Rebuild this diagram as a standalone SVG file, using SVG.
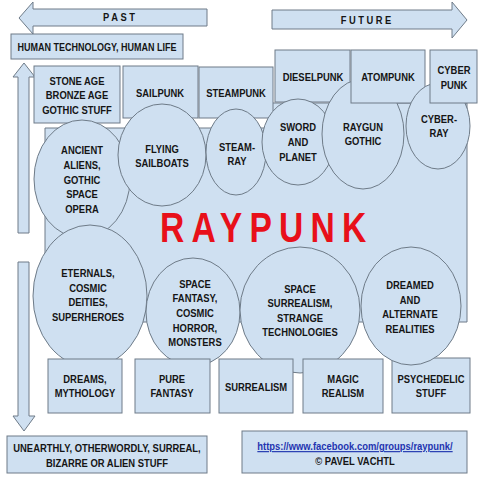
<svg xmlns="http://www.w3.org/2000/svg" width="480" height="480" viewBox="0 0 480 480">
<style>
.s{fill:#cfe0f1;stroke:#6e7b88;stroke-width:1}
.t{font-family:"Liberation Sans",Arial,sans-serif;font-weight:bold;font-size:11.5px;text-anchor:middle;fill:#151515}
.h{font-family:"Liberation Sans",Arial,sans-serif;font-weight:bold;font-size:11px;text-anchor:middle;fill:#151515;letter-spacing:3px}
.big{font-family:"Liberation Sans",Arial,sans-serif;font-weight:bold;font-size:42px;fill:#e8101a;letter-spacing:9px}
.lk{fill:#1f35b0;text-decoration:underline}
</style>
<rect width="480" height="480" fill="#ffffff"/>
<g id="connectors">
<polygon class="s" points="19,18 33,2 33,9 207,9 207,26 33,26 33,34"/>
<polygon class="s" points="272,10 452,10 452,2 467,20 452,38 452,29 272,29"/>
<polygon class="s" points="24,63 35,77 29,77 29,233 18,233 18,77 13,77"/>
<polygon class="s" points="18,262 29,262 29,416 35,416 24,431 13,416 18,416"/>
</g>
<g id="labels">
<g transform="translate(119 0) scale(0.85 1)"><text class="h" x="1.5" y="21.5">PAST</text></g>
<g transform="translate(366 0) scale(0.85 1)"><text class="h" x="1.5" y="24">FUTURE</text></g>
</g>
<g id="raypunk-bg"><polygon class="s" points="45,128 270,128 270,103 467,103 467,322 45,322"/></g>
<g id="human-tech"><rect class="s" x="11" y="34" width="172" height="25"/><g transform="translate(97 0) scale(0.82 1)"><text class="t" y="51" style="font-size:11px">HUMAN TECHNOLOGY, HUMAN LIFE</text></g></g>
<g id="stone-age"><rect class="s" x="34" y="66" width="86" height="57"/><g transform="translate(77 0) scale(0.82 1)"><text class="t" y="85">STONE AGE</text><text class="t" y="99.5">BRONZE AGE</text><text class="t" y="114">GOTHIC STUFF</text></g></g>
<g id="sailpunk"><rect class="s" x="123" y="66" width="75" height="52"/><g transform="translate(160 0) scale(0.82 1)"><text class="t" y="97">SAILPUNK</text></g></g>
<g id="steampunk"><rect class="s" x="199" y="67" width="74" height="51"/><g transform="translate(236 0) scale(0.82 1)"><text class="t" y="97">STEAMPUNK</text></g></g>
<g id="dieselpunk"><rect class="s" x="275" y="50" width="75" height="52"/><g transform="translate(313 0) scale(0.82 1)"><text class="t" y="81">DIESELPUNK</text></g></g>
<g id="ancient-aliens"><ellipse class="s" cx="82" cy="179" rx="48" ry="59"/><g transform="translate(82 0) scale(0.82 1)"><text class="t" y="154">ANCIENT</text><text class="t" y="169">ALIENS,</text><text class="t" y="184">GOTHIC</text><text class="t" y="198">SPACE</text><text class="t" y="213">OPERA</text></g></g>
<g id="flying-sailboats"><ellipse class="s" cx="162" cy="155" rx="44" ry="51"/><g transform="translate(162 0) scale(0.82 1)"><text class="t" y="153">FLYING</text><text class="t" y="167">SAILBOATS</text></g></g>
<g id="steam-ray"><ellipse class="s" cx="236" cy="152" rx="30" ry="43"/><g transform="translate(237 0) scale(0.82 1)"><text class="t" y="151">STEAM-</text><text class="t" y="165">RAY</text></g></g>
<g id="sword-and-planet"><ellipse class="s" cx="298" cy="142" rx="36" ry="43"/><g transform="translate(298 0) scale(0.82 1)"><text class="t" y="131">SWORD</text><text class="t" y="146">AND</text><text class="t" y="161">PLANET</text></g></g>
<g id="raygun-gothic"><ellipse class="s" cx="363" cy="134" rx="41" ry="55"/><g transform="translate(363 0) scale(0.82 1)"><text class="t" y="131">RAYGUN</text><text class="t" y="145">GOTHIC</text></g></g>
<g id="atompunk"><rect class="s" x="351" y="50" width="74" height="53"/><g transform="translate(388 0) scale(0.82 1)"><text class="t" y="81">ATOMPUNK</text></g></g>
<g id="cyber-ray"><ellipse class="s" cx="438" cy="126" rx="32" ry="43"/><g transform="translate(439 0) scale(0.82 1)"><text class="t" y="123">CYBER-</text><text class="t" y="137">RAY</text></g></g>
<g id="cyberpunk"><rect class="s" x="430" y="50" width="47" height="53"/><g transform="translate(454 0) scale(0.82 1)"><text class="t" y="74">CYBER</text><text class="t" y="89">PUNK</text></g></g>
<g id="raypunk"><g transform="translate(160 0) scale(0.8 1)"><text class="big" x="0" y="242">RAYPUNK</text></g></g>
<g id="eternals"><ellipse class="s" cx="90" cy="296" rx="57" ry="71"/><g transform="translate(88 0) scale(0.82 1)"><text class="t" y="277">ETERNALS,</text><text class="t" y="292">COSMIC</text><text class="t" y="306">DEITIES,</text><text class="t" y="321">SUPERHEROES</text></g></g>
<g id="space-fantasy"><ellipse class="s" cx="193" cy="312" rx="47" ry="54"/><g transform="translate(195 0) scale(0.82 1)"><text class="t" y="288">SPACE</text><text class="t" y="302">FANTASY,</text><text class="t" y="317">COSMIC</text><text class="t" y="332">HORROR,</text><text class="t" y="346">MONSTERS</text></g></g>
<g id="space-surrealism"><ellipse class="s" cx="300" cy="310" rx="60" ry="63"/><g transform="translate(300 0) scale(0.82 1)"><text class="t" y="293">SPACE</text><text class="t" y="307">SURREALISM,</text><text class="t" y="322">STRANGE</text><text class="t" y="336">TECHNOLOGIES</text></g></g>
<g id="dreams-mythology"><rect class="s" x="48" y="359" width="74" height="54"/><g transform="translate(85 0) scale(0.82 1)"><text class="t" y="383">DREAMS,</text><text class="t" y="397">MYTHOLOGY</text></g></g>
<g id="pure-fantasy"><rect class="s" x="135" y="359" width="75" height="54"/><g transform="translate(172 0) scale(0.82 1)"><text class="t" y="383">PURE</text><text class="t" y="397">FANTASY</text></g></g>
<g id="surrealism"><rect class="s" x="219" y="359" width="74" height="54"/><g transform="translate(256 0) scale(0.82 1)"><text class="t" y="391">SURREALISM</text></g></g>
<g id="magic-realism"><rect class="s" x="303" y="359" width="80" height="54"/><g transform="translate(343 0) scale(0.82 1)"><text class="t" y="383">MAGIC</text><text class="t" y="397">REALISM</text></g></g>
<g id="psychedelic"><rect class="s" x="392" y="358" width="78" height="55"/><g transform="translate(431 0) scale(0.82 1)"><text class="t" y="383">PSYCHEDELIC</text><text class="t" y="397">STUFF</text></g></g>
<g id="dreamed"><ellipse class="s" cx="411" cy="306" rx="50" ry="59"/><g transform="translate(410 0) scale(0.82 1)"><text class="t" y="289">DREAMED</text><text class="t" y="304">AND</text><text class="t" y="318">ALTERNATE</text><text class="t" y="333">REALITIES</text></g></g>
<g id="unearthly"><rect class="s" x="7" y="436" width="200" height="37"/><g transform="translate(107 0) scale(0.82 1)"><text class="t" y="452">UNEARTHLY, OTHERWORDLY, SURREAL,</text><text class="t" y="467">BIZARRE OR ALIEN STUFF</text></g></g>
<g id="credit"><rect class="s" x="242" y="431" width="225" height="42"/><g transform="translate(355 0) scale(0.82 1)"><text class="t lk" y="450">https://www.facebook.com/groups/raypunk/</text><text class="t" y="465">© PAVEL VACHTL</text></g></g>
</svg>
